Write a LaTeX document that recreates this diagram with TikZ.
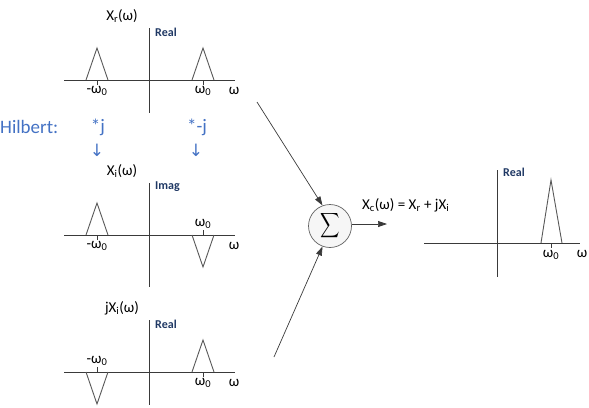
\documentclass[tikz,border=0pt]{standalone}
\usepackage{amsmath}
\usepackage{fontspec}
\setmainfont{Carlito}
\newfontfamily\symfont{DejaVu Sans}
\usepackage{tikz}
\usetikzlibrary{arrows.meta,positioning,calc}

\definecolor{axisgray}{HTML}{3A3A3A}
\definecolor{partnavy}{HTML}{1F3864}
\definecolor{hilblue}{HTML}{4472C4}

\tikzset{
 axisline/.style={draw=axisgray,line width=0.9pt},
 pulse/.style={draw=axisgray!85,line width=0.9pt,line join=miter},
 lbl/.style={font=\fontsize{15}{17}\selectfont,inner sep=0pt},
 partlbl/.style={font=\fontsize{12}{14}\selectfont\bfseries,text=partnavy,inner sep=0pt,anchor=west},
 hilb/.style={font=\fontsize{19}{22}\selectfont,text=hilblue,inner sep=0pt},
 feed/.style={draw=axisgray,line width=0.7pt,-{Triangle[length=9pt,width=6pt]}},
}

\begin{document}
\begin{tikzpicture}[x=1pt,y=-1pt]
\useasboundingbox (0,0) rectangle (589,407);

% three spectra on the left
\foreach \row/\yy/\name/\part/\sl/\sr/\lo in {r/80/{X\textsubscript{r}(ω)}/Real/1/1/33,
  i/235/{X\textsubscript{i}(ω)}/Imag/1/-1/52,
  j/372/{jX\textsubscript{i}(ω)}/Real/-1/1/33} {
 \begin{scope}[shift={(0,\yy)}]
 \draw[axisline] (64,0) -- (235,0);
 \draw[axisline] (149,-52) -- (149,\lo);
 \node[partlbl] (part\row) at (155,-48) {\part};
 \node[lbl] (title\row) at (122,-64) {\name};
 \draw[pulse] (86,0) -- (97,{-32*\sl}) -- (108,0);
 \draw[pulse] (192,0) -- (203,{-32*\sr}) -- (214,0);
 \draw[axisline] (97,0) -- (97,{5*\sl});
 \draw[axisline] (203,0) -- (203,{5*\sr});
 \node[lbl] (lw\row) at (97,{11*\sl}) {-ω\textsubscript{0}};
 \node[lbl] (rw\row) at (203,{11*\sr}) {ω\textsubscript{0}};
 \node[lbl] (om\row) at (234,11) {ω};
 \end{scope}
}

% Hilbert step
\node[hilb,anchor=west] (hilbert) at (0,127) {Hilbert:};
\node[hilb] (mulj) at (98,127) {*j};
\node[hilb] (mulmj) at (197,127) {*-j};
\node[hilb,font=\symfont\fontsize{17}{20}\selectfont] (downl) at (97,150) {↓};
\node[hilb,font=\symfont\fontsize{17}{20}\selectfont] (downr) at (196,150) {↓};

% summation
\node[circle,draw=axisgray!80,fill=gray!7,line width=0.7pt,minimum size=43pt,inner sep=0pt]
 (sum) at (330,226) {\fontsize{17}{20}\selectfont\scalebox{0.78}[1]{$\displaystyle\sum$}};
\coordinate (fromr) at (257,102);
\coordinate (fromj) at (274,357);
\coordinate (toc) at (387,224);
\draw[feed] (fromr) -- (sum.110);
\draw[feed] (fromj) -- (sum.-110);
\draw[feed] (sum.east |- toc) -- (toc);
\node[lbl,anchor=west] (xc) at (362,205) {X\textsubscript{c}(ω) = X\textsubscript{r} + jX\textsubscript{i}};

% resulting spectrum
\draw[axisline] (424,243) -- (580,243);
\draw[axisline] (497,170) -- (497,277);
\node[partlbl] (partc) at (503,172) {Real};
\draw[pulse] (541,243) -- (551,180) -- (562,243);
\draw[axisline] (551,243) -- (551,248);
\node[lbl] (wc) at (551,255) {ω\textsubscript{0}};
\node[lbl] (omc) at (582,254) {ω};
\end{tikzpicture}
\end{document}
